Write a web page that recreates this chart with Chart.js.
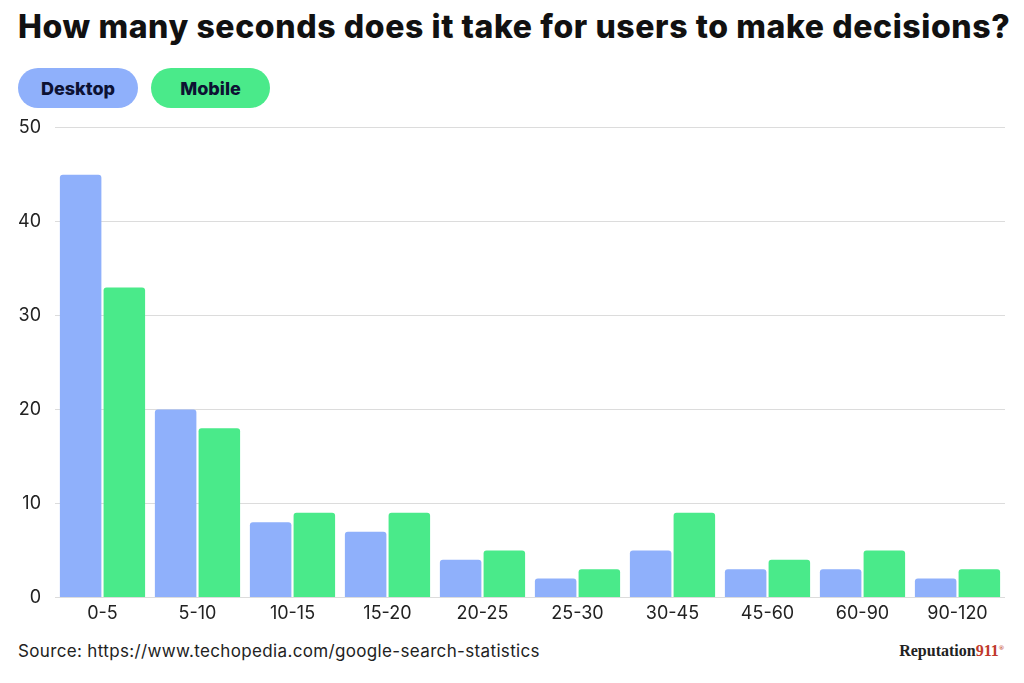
<!DOCTYPE html>
<html>
<head>
<meta charset="utf-8">
<script src="https://cdn.jsdelivr.net/npm/chart.js@4.4.1/dist/chart.umd.min.js"></script>
<style>
  body { margin: 0; background: #fff; font-family: Inter, "Open Sans", sans-serif; }
  #wrap { position: relative; width: 1024px; height: 683px; overflow: hidden; }
  #title { position: absolute; left: 18px; top: 7px; font-size: 32px; font-weight: 800; color: #111; letter-spacing: 0.6px; white-space: nowrap; }
  .pill { position: absolute; top: 68px; height: 40px; border-radius: 20px; font-size: 18px; font-weight: 800; color: #0d1233; display: flex; align-items: center; justify-content: center; }
  #src { position: absolute; left: 18px; top: 641px; font-size: 17px; color: #222; letter-spacing: 0.35px; }
  #logo { position: absolute; right: 20px; top: 642px; font-family: "Liberation Serif", serif; font-size: 16px; font-weight: 700; color: #222; }
  #logo span { color: #c0392b; }
  #logo sup { font-size: 7px; color: #c0392b; }
  #box { position: absolute; left: 0; top: 103px; width: 1024px; height: 526px; }
</style>
</head>
<body>
<div id="wrap">
  <div id="title">How many seconds does it take for users to make decisions?</div>
  <div class="pill" style="left:18px;width:120px;background:#8fb0fb;">Desktop</div>
  <div class="pill" style="left:151px;width:119px;background:#4aea8a;">Mobile</div>
  <div id="box"><canvas id="chart"></canvas></div>
  <div id="src">Source: https://www.techopedia.com/google-search-statistics</div>
  <div id="logo">Reputation<span>911</span><sup>®</sup></div>
</div>
<script>
// data
const categories = ['0-5', '5-10', '10-15', '15-20', '20-25', '25-30', '30-45', '45-60', '60-90', '90-120'];
const desktop = [45, 20, 8, 7, 4, 2, 5, 3, 3, 2];
const mobile = [33, 18, 9, 9, 5, 3, 9, 4, 5, 3];
const yTicks = [0, 10, 20, 30, 40, 50];

const ctx = document.getElementById('chart').getContext('2d');
new Chart(ctx, {
  type: 'bar',
  data: {
    labels: categories,
    datasets: [
      { label: 'Desktop', data: desktop, backgroundColor: '#8fb0fb', borderRadius: 3, borderSkipped: 'bottom' },
      { label: 'Mobile', data: mobile, backgroundColor: '#4aea8a', borderRadius: 3, borderSkipped: 'bottom' }
    ]
  },
  options: {
    responsive: true,
    maintainAspectRatio: false,
    animation: false,
    categoryPercentage: 0.92,
    barPercentage: 0.95,
    layout: { padding: { left: 4, right: 19, top: 4, bottom: 0 } },
    plugins: { legend: { display: false }, tooltip: { enabled: false } },
    scales: {
      x: {
        grid: { display: false, drawTicks: false },
        border: { display: false },
        ticks: { color: '#222', font: { family: 'Inter', size: 18 }, padding: 5 }
      },
      y: {
        min: 0,
        max: 50,
        afterBuildTicks: axis => { axis.ticks = yTicks.map(v => ({ value: v })); },
        grid: { color: '#dcdcdc', drawTicks: false },
        border: { display: false },
        ticks: { color: '#222', font: { family: 'Inter', size: 18 }, padding: 14 }
      }
    }
  }
});
</script>
</body>
</html>
